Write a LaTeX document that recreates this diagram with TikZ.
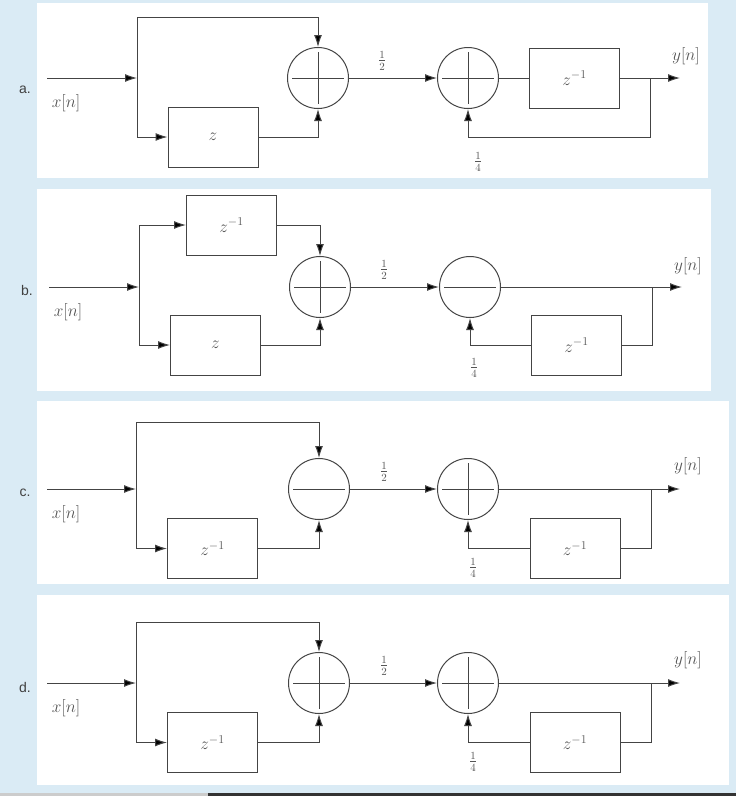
\documentclass[tikz,border=0pt]{standalone}
\usepackage{fontspec}
\newfontfamily\lblfont{Liberation Sans}
\usetikzlibrary{arrows.meta}
\definecolor{bg}{HTML}{DAEBF5}
\definecolor{linec}{HTML}{444444}
\definecolor{txtc}{HTML}{555555}
\begin{document}
\begin{tikzpicture}[x=1pt,y=-1pt,
  wire/.style={draw=linec, line width=1pt},
  arr/.style={wire, -{Latex[length=12pt,width=8pt,fill=black]}},
  blk/.style={draw=linec, line width=1pt, fill=white, minimum width=90pt, minimum height=60pt, inner sep=0pt, text=txtc, font=\fontsize{17}{20}\selectfont},
  sumnode/.style={circle, draw=linec, line width=1pt, minimum size=61pt, inner sep=0pt},
  lbl/.style={text=txtc, inner sep=0pt, font=\fontsize{16}{19}\selectfont},
  tag/.style={text=black!75, font=\lblfont\fontsize{14}{16}\selectfont, inner sep=0pt},
  panel/.style={fill=white, draw=none}]
\useasboundingbox (0,0) rectangle (736,796);
\fill[bg] (0,0) rectangle (736,796);
\fill[black!20] (0,793) rectangle (208,796);
\fill[black!80] (208,793) rectangle (736,796);
\fill[panel] (37,3) rectangle (708,178);
\fill[panel] (37,189) rectangle (711,391);
\fill[panel] (37,401) rectangle (729,584);
\fill[panel] (37,595) rectangle (729,785);

% ---------- panel a ----------
\begin{scope}[shift={(0,78)}, name prefix=a-]
\node[tag] (tag) at (25,12) {a.};
\node[sumnode] (s1) at (318,0) {};
\node[sumnode] (s2) at (468,0) {};
\draw[wire] (s1.center) +(-26,0) -- +(26,0) +(0,-26) -- +(0,26);
\draw[wire] (s2.center) +(-26,0) -- +(26,0) +(0,-26) -- +(0,26);
\node[blk] (bz) at (213,59) {$z$};
\node[blk] (bd) at (574.5,0) {$z^{-1}$};
\coordinate (in) at (47,0);
\coordinate (br) at (137,0);
\coordinate (tp) at (137,-61);
\coordinate (ob) at (650,0);
\coordinate (fb) at (650,59);
\coordinate (out) at (680,0);
\draw[arr] (in) -- (br);
\draw[arr] (br) -- (tp) -| (s1.north);
\draw[arr] (br) |- (bz.west);
\draw[arr] (bz.east) -| (s1.south);
\draw[arr] (s1.east) -- (s2.west);
\draw[wire] (s2.east) -- (bd.west);
\draw[arr] (bd.east) -- (out);
\draw[arr] (ob) -- (fb) -| (s2.south);
\node[lbl] (xn) at (66,25) {$x[n]$};
\node[lbl] (yn) at (686,-22) {$y[n]$};
\node[lbl] (h) at (382,-17) {$\frac{1}{2}$};
\node[lbl] (q) at (478,84) {$\frac{1}{4}$};
\end{scope}

% ---------- panel b ----------
\begin{scope}[shift={(0,287)}, name prefix=b-]
\node[tag] (tag) at (27,3) {b.};
\node[sumnode] (s1) at (320,0) {};
\node[sumnode] (s2) at (470,0) {};
\draw[wire] (s1.center) +(-26,0) -- +(26,0) +(0,-26) -- +(0,26);
\draw[wire] (s2.center) +(-26,0) -- +(26,0);
\node[blk] (bt) at (231.5,-62) {$z^{-1}$};
\node[blk] (bz) at (215.5,58) {$z$};
\node[blk] (bd) at (576.5,58) {$z^{-1}$};
\coordinate (in) at (49,0);
\coordinate (br) at (139,0);
\coordinate (ob) at (652,0);
\coordinate (out) at (682,0);
\draw[arr] (in) -- (br);
\draw[arr] (br) |- (bt.west);
\draw[arr] (br) |- (bz.west);
\draw[arr] (bt.east) -| (s1.north);
\draw[arr] (bz.east) -| (s1.south);
\draw[arr] (s1.east) -- (s2.west);
\draw[arr] (s2.east) -- (out);
\draw[wire] (ob) |- (bd.east);
\draw[arr] (bd.west) -| (s2.south);
\node[lbl] (xn) at (68,25) {$x[n]$};
\node[lbl] (yn) at (688,-21) {$y[n]$};
\node[lbl] (h) at (384,-17) {$\frac{1}{2}$};
\node[lbl] (q) at (474,81) {$\frac{1}{4}$};
\end{scope}

% ---------- panel c ----------
\begin{scope}[shift={(0,489)}, name prefix=c-]
\node[tag] (tag) at (25,4) {c.};
\node[sumnode] (s1) at (319,0) {};
\node[sumnode] (s2) at (468,0) {};
\draw[wire] (s1.center) +(-26,0) -- +(26,0);
\draw[wire] (s2.center) +(-26,0) -- +(26,0) +(0,-26) -- +(0,26);
\node[blk] (bz) at (212.5,59.5) {$z^{-1}$};
\node[blk] (bd) at (575,59.5) {$z^{-1}$};
\coordinate (in) at (47,0);
\coordinate (br) at (136,0);
\coordinate (tp) at (136,-67);
\coordinate (ob) at (651,0);
\coordinate (out) at (680,0);
\draw[arr] (in) -- (br);
\draw[arr] (br) -- (tp) -| (s1.north);
\draw[arr] (br) |- (bz.west);
\draw[arr] (bz.east) -| (s1.south);
\draw[arr] (s1.east) -- (s2.west);
\draw[arr] (s2.east) -- (out);
\draw[wire] (ob) |- (bd.east);
\draw[arr] (bd.west) -| (s2.south);
\node[lbl] (xn) at (66,25) {$x[n]$};
\node[lbl] (yn) at (688,-23) {$y[n]$};
\node[lbl] (h) at (384,-17) {$\frac{1}{2}$};
\node[lbl] (q) at (473,79) {$\frac{1}{4}$};
\end{scope}

% ---------- panel d ----------
\begin{scope}[shift={(0,683)}, name prefix=d-]
\node[tag] (tag) at (25,4) {d.};
\node[sumnode] (s1) at (319,0) {};
\node[sumnode] (s2) at (468,0) {};
\draw[wire] (s1.center) +(-26,0) -- +(26,0) +(0,-26) -- +(0,26);
\draw[wire] (s2.center) +(-26,0) -- +(26,0) +(0,-26) -- +(0,26);
\node[blk] (bz) at (212.5,59.5) {$z^{-1}$};
\node[blk] (bd) at (575,59.5) {$z^{-1}$};
\coordinate (in) at (47,0);
\coordinate (br) at (136,0);
\coordinate (tp) at (136,-61);
\coordinate (ob) at (651,0);
\coordinate (out) at (680,0);
\draw[arr] (in) -- (br);
\draw[arr] (br) -- (tp) -| (s1.north);
\draw[arr] (br) |- (bz.west);
\draw[arr] (bz.east) -| (s1.south);
\draw[arr] (s1.east) -- (s2.west);
\draw[arr] (s2.east) -- (out);
\draw[wire] (ob) |- (bd.east);
\draw[arr] (bd.west) -| (s2.south);
\node[lbl] (xn) at (66,25) {$x[n]$};
\node[lbl] (yn) at (688,-23) {$y[n]$};
\node[lbl] (h) at (384,-17) {$\frac{1}{2}$};
\node[lbl] (q) at (473,79) {$\frac{1}{4}$};
\end{scope}
\end{tikzpicture}
\end{document}
